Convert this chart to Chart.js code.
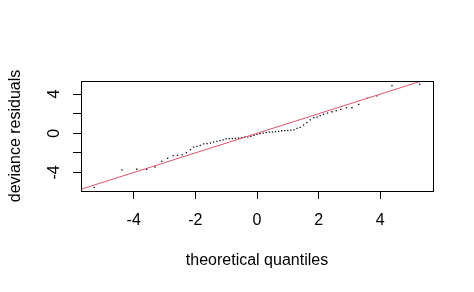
<!DOCTYPE html>
<html>
<head>
<meta charset="utf-8">
<script src="https://cdn.jsdelivr.net/npm/chart.js@4.4.1/dist/chart.umd.min.js"></script>
<style>
  html, body { margin: 0; padding: 0; background: #ffffff; }
  canvas { display: block; }
</style>
</head>
<body>
<canvas id="c" width="474" height="292"></canvas>
<script>
// Theoretical quantiles (x) and sorted deviance residuals (y)
const theoreticalQuantiles = [
  -5.28, -4.38, -3.90, -3.58, -3.31, -3.09, -2.90, -2.72, -2.58, -2.43,
  -2.29, -2.16, -2.06, -1.95, -1.84, -1.73, -1.62, -1.51, -1.41, -1.30,
  -1.20, -1.10, -1.00, -0.90, -0.80, -0.70, -0.60, -0.50, -0.40, -0.30,
  -0.20, -0.10, 0.00, 0.10, 0.20, 0.30, 0.40, 0.50, 0.60, 0.70,
  0.80, 0.90, 1.00, 1.10, 1.20, 1.30, 1.40, 1.51, 1.62, 1.73,
  1.84, 1.95, 2.05, 2.16, 2.29, 2.43, 2.57, 2.72, 2.90, 3.08,
  3.30, 3.57, 3.89, 4.38, 5.28
];
const devianceResiduals = [
  -5.51, -3.74, -3.67, -3.67, -3.44, -2.86, -2.55, -2.28, -2.25, -2.21,
  -1.98, -1.67, -1.40, -1.33, -1.23, -1.09, -1.06, -0.99, -0.89, -0.82,
  -0.74, -0.66, -0.58, -0.55, -0.55, -0.51, -0.48, -0.45, -0.39, -0.36,
  -0.30, -0.20, -0.10, -0.02, 0.03, 0.08, 0.11, 0.13, 0.16, 0.20,
  0.26, 0.27, 0.30, 0.33, 0.36, 0.51, 0.61, 0.85, 1.08, 1.36,
  1.59, 1.66, 1.80, 1.94, 2.07, 2.20, 2.31, 2.45, 2.61, 2.61,
  2.96, 3.57, 3.81, 4.86, 5.00
];
// Reference line (intercept, slope)
const refIntercept = 0.0;
const refSlope = 1.0;
// Axes
const xLimits = [-5.71, 5.71];
const yLimits = [-5.89, 5.34];
const xTickValues = [-4, -2, 0, 2, 4];
const xTickLabels = ['-4', '-2', '0', '2', '4'];
const yTickValues = [-4, -2, 0, 2, 4];
const yTickLabels = ['-4', '', '0', '', '4'];
const xTitle = 'theoretical quantiles';
const yTitle = 'deviance residuals';

const points = theoreticalQuantiles.map((q, i) => ({ x: q, y: devianceResiduals[i] }));
const linePts = xLimits.map(x => ({ x: x, y: refIntercept + refSlope * x }));

const FONT = { family: '"Liberation Sans", Arial, Helvetica, sans-serif', size: 16 };

const boxPlugin = {
  id: 'box',
  afterDraw(chart) {
    const { ctx, chartArea: a } = chart;
    ctx.save();
    ctx.strokeStyle = '#000';
    ctx.lineWidth = 1;
    ctx.strokeRect(Math.round(a.left) + 0.5, Math.round(a.top) + 0.5,
                   Math.round(a.right - a.left), Math.round(a.bottom - a.top));
    ctx.restore();
  }
};

new Chart(document.getElementById('c'), {
  type: 'scatter',
  data: {
    datasets: [
      {
        type: 'line',
        data: linePts,
        borderColor: '#DF536B',
        borderWidth: 1,
        pointRadius: 0,
        fill: false,
        tension: 0
      },
      {
        data: points,
        pointStyle: 'rect',
        pointRadius: 0.9,
        pointBorderWidth: 0,
        backgroundColor: '#000',
        borderColor: '#000'
      }
    ]
  },
  options: {
    responsive: false,
    animation: false,
    devicePixelRatio: 1,
    layout: { padding: { left: 0, right: 41, top: 81, bottom: 0 } },
    plugins: { legend: { display: false }, tooltip: { enabled: false } },
    scales: {
      x: {
        type: 'linear',
        min: xLimits[0], max: xLimits[1],
        afterFit(s) { s.height = 101; },
        afterBuildTicks(s) { s.ticks = xTickValues.map(v => ({ value: v })); },
        border: { display: false },
        grid: { drawOnChartArea: false, drawTicks: true, tickLength: 8, color: '#000', lineWidth: 1 },
        ticks: {
          autoSkip: false, maxRotation: 0, minRotation: 0, padding: 12,
          color: '#000', font: FONT,
          callback: (v) => { const i = xTickValues.indexOf(v); return i >= 0 ? xTickLabels[i] : ''; }
        },
        title: { display: true, text: xTitle, color: '#000', font: FONT, padding: { top: 0, bottom: 22 } }
      },
      y: {
        type: 'linear',
        min: yLimits[0], max: yLimits[1],
        afterFit(s) { s.width = 81; },
        afterBuildTicks(s) { s.ticks = yTickValues.map(v => ({ value: v })); },
        border: { display: false },
        grid: { drawOnChartArea: false, drawTicks: true, tickLength: 8, color: '#000', lineWidth: 1 },
        ticks: {
          autoSkip: false, minRotation: 90, maxRotation: 90, crossAlign: 'center', padding: 11,
          color: '#000', font: FONT,
          callback: (v) => { const i = yTickValues.indexOf(v); return i >= 0 ? yTickLabels[i] : ''; }
        },
        title: { display: true, text: yTitle, color: '#000', font: FONT, padding: { top: 6, bottom: 0 } }
      }
    }
  },
  plugins: [boxPlugin]
});
</script>
</body>
</html>
